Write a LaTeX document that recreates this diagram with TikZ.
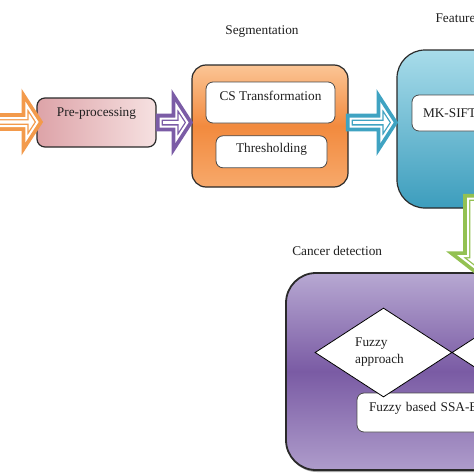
\documentclass[tikz,border=0pt]{standalone}
\usepackage{fontspec}
\setmainfont{Liberation Serif}
\usetikzlibrary{shapes.geometric, positioning, calc, shadows}
\definecolor{preleft}{HTML}{DDA3A8}
\definecolor{preright}{HTML}{F6E1E1}
\definecolor{segtop}{HTML}{FBC595}
\definecolor{segmid}{HTML}{F28A3E}
\definecolor{segbot}{HTML}{F7A96B}
\definecolor{feattop}{HTML}{A8DCEA}
\definecolor{featbot}{HTML}{3C9DBD}
\definecolor{dettop}{HTML}{B7A8D2}
\definecolor{detmid}{HTML}{7A5BA4}
\definecolor{detbot}{HTML}{AE9CCB}
\definecolor{arrorange}{HTML}{F39A4B}
\definecolor{arrpurple}{HTML}{7B5CA6}
\definecolor{arrblue}{HTML}{3FA3C2}
\definecolor{arrgreen}{HTML}{93C152}
\definecolor{boxline}{HTML}{2A2A2A}
\definecolor{inktext}{HTML}{1F1F1F}

\begin{document}
\begin{tikzpicture}[
    x=1pt, y=-1pt,
    font=\fontsize{13.3}{17}\selectfont, text=inktext,
    stage/.style={rectangle, draw=boxline, line width=1.2pt, rounded corners=#1},
    inbox/.style={rectangle, draw=boxline!85, fill=white, line width=0.8pt, rounded corners=7pt},
    stagename/.style={inner sep=3pt},
    decide/.style={diamond, draw=black, fill=white, line width=0.8pt, minimum width=137pt, minimum height=89pt, inner sep=0pt, align=left},
    blockline/.style={line join=miter, preaction={draw=#1, line width=9.6pt}, fill=white,
      draw=#1, double=white, line width=1.3pt, double distance=2pt},
    harrow/.style={blockline=#1,
      to path={let \p1=(\tikztostart), \p2=(\tikztotarget) in
        (\x1+5pt,\y1+4pt) -- (\x2-16pt,\y1+4pt) -- (\x2-16pt,\y1+17pt) -- (\x2-5pt,\y1)
        -- (\x2-16pt,\y1-17pt) -- (\x2-16pt,\y1-4pt) -- (\x1+5pt,\y1-4pt) -- cycle}},
    varrow/.style={blockline=#1,
      to path={let \p1=(\tikztostart), \p2=(\tikztotarget) in
        (\x1-10pt,\y1) -- (\x1-10pt,\y2+19pt) -- (\x1-18pt,\y2+19pt) -- (\x1,\y2+5pt)
        -- (\x1+18pt,\y2+19pt) -- (\x1+10pt,\y2+19pt) -- (\x1+10pt,\y1) -- cycle}}
]
\useasboundingbox (0,0) rectangle (474,474);
\fill[white] (0,0) rectangle (474,474);
\clip (0,0) rectangle (474,474);

% Stages
\node[stage=8pt, left color=preleft, right color=preright, minimum width=119pt, minimum height=49pt, text depth=21pt] (pre) at (96.5,122.5) {Pre-processing};

\node[stage=14pt, top color=segtop, bottom color=segbot, middle color=segmid, minimum width=156pt, minimum height=122pt] (seg) at (270,126) {};
\node[inbox, minimum width=129pt, minimum height=41pt, text depth=13pt] (cs) at (270.5,102.5) {CS Transformation};
\node[inbox, below=12pt of cs, minimum width=111pt, minimum height=32pt, text depth=8pt, xshift=1pt] (thr) {Thresholding};
\node[stagename, above=24pt of seg, xshift=-8pt] (segname) {Segmentation};

\node[stage=28pt, top color=feattop, bottom color=featbot, minimum width=162pt, minimum height=158pt] (feat) at (478,129) {};
\node[inbox, text width=110pt, align=left, inner xsep=11pt, minimum height=36pt] (mk) at (478,113) {MK-SIFT};
\node[stagename, above right=24pt and 36pt of feat.north west] (featname) {Feature extraction};

\node[stage=30pt, line width=1.8pt, top color=dettop, bottom color=detbot, middle color=detmid, minimum width=380pt, minimum height=197pt,
      drop shadow={shadow xshift=1pt, shadow yshift=-2pt, opacity=0.7}] (det) at (476,371.5) {};
\node[stagename, above right=13pt and 4pt of det.north west] (detname) {Cancer detection};
\node[decide] (fz2) at (520.5,352.5) {};
\node[inbox, text width=220pt, align=left, inner xsep=12pt, minimum height=39pt, text depth=11pt] (ssa) at (479,412.5) {Fuzzy based SSA-ELM};
\node[decide] (fz) at (383.5,352.5) {\hspace*{-8pt}Fuzzy\\\hspace*{-8pt}approach};

% Arrows
\coordinate (src) at (-10,122);
\draw[harrow=arrorange] (src) to ([xshift=6pt]pre.west);
\draw[harrow=arrpurple] ([xshift=-1pt]pre.east) to ([xshift=1pt]seg.west);
\draw[harrow=arrblue] ([xshift=-3pt]seg.east |- pre.east) to ([xshift=1pt]feat.west);
\draw[varrow=arrgreen] ([yshift=10pt]feat.south) to ([yshift=-3pt]det.north -| feat.south);

\end{tikzpicture}
\end{document}
